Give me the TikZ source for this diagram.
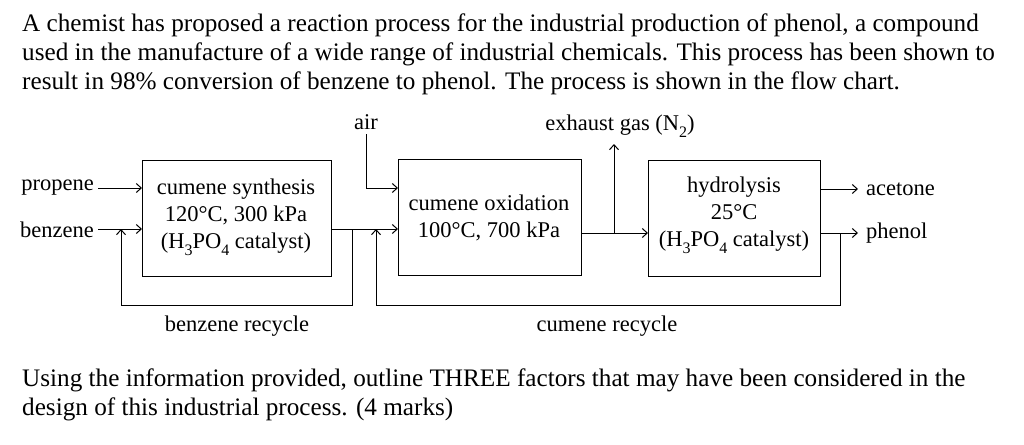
\documentclass[tikz,border=0pt]{standalone}
\usepackage{fontspec}
\setmainfont{Liberation Serif}
\usetikzlibrary{arrows.meta,calc}
\newcommand{\sbs}[1]{\raisebox{-0.3em}{\fontsize{16}{16}\selectfont #1}}
\begin{document}
\begin{tikzpicture}[x=1pt,y=-1pt,
  lab/.style={font=\fontsize{22.5}{27}\selectfont,inner sep=0pt},
  bx/.style={draw,line width=1pt,minimum height=116pt,anchor=north west,inner sep=0pt},
  ln/.style={line width=1pt},
  ar/.style={ln,-{Straight Barb[length=5pt,width=9pt]}},
  par/.style={font=\fontsize{25.2}{29}\selectfont,inner sep=0pt,anchor=north west,align=left}]
\useasboundingbox (0,0) rectangle (1024,444);
\node[par] (p1) at (22,14) {A chemist has proposed a reaction process for the industrial production of phenol, a compound\\used in the manufacture of a wide range of industrial chemicals. This process has been shown to\\result in 98\% conversion of benzene to phenol. The process is shown in the flow chart.};
\node[par] (p2) at (22,369) {Using the information provided, outline THREE factors that may have been considered in the\\design of this industrial process. (4 marks)};
% boxes
\node[bx,minimum width=189pt] (b1) at (142,160) {};
\node[lab,align=center] (t1) at (236,217) {cumene synthesis\\120°C, 300 kPa\\(H\sbs{3}PO\sbs{4} catalyst)};
\node[bx,minimum width=183pt] (b2) at (398,159) {};
\node[lab,align=center] (t2) at (489,218) {cumene oxidation\\100°C, 700 kPa};
\node[bx,minimum width=172pt] (b3) at (648,160) {};
\node[lab,align=center] (t3) at (734,215) {hydrolysis\\25°C\\(H\sbs{3}PO\sbs{4} catalyst)};
% labels
\node[lab,anchor=east] (prop) at (94,188) {propene};
\node[lab,anchor=east] (benz) at (94,230) {benzene};
\node[lab] (air) at (366,122) {air};
\node[lab] (exh) at (620,126) {exhaust gas (N\sbs{2})};
\node[lab,anchor=west] (acet) at (866,189) {acetone};
\node[lab,anchor=west] (phen) at (866,233) {phenol};
\node[lab] (brec) at (237,326) {benzene recycle};
\node[lab] (crec) at (607,326) {cumene recycle};
% coordinates
\coordinate (j1) at (352,229);
\coordinate (j2) at (614,233);
\coordinate (j3) at (840,233);
\coordinate (ab) at (121,229);
\coordinate (ac) at (376,229);
\coordinate (airtop) at (366,134);
\coordinate (ain) at (398,188);
\coordinate (exend) at (614,144);
% connectors
\draw[ar] ($(prop.east)+(4,0)$) -- (b1.west |- prop);
\draw[ar] ($(benz.east)+(4,-1)$) -- (b1.west |- ab);
\draw[ar] (b1.east |- ab) -- (b2.west |- ab);
\draw[ar] (airtop) |- (ain);
\draw[ar] (b2.east |- j2) -- (b3.west |- j2);
\draw[ar] (j2) -- (exend);
\draw[ar] (b3.east |- acet) -- ($(acet.west)+(-8,0)$);
\draw[ar] (b3.east |- phen) -- ($(phen.west)+(-8,0)$);
\draw[ar] (j1) -- (352,305) -| (ab);
\draw[ar] (j3) -- (840,305) -| (ac);
\end{tikzpicture}
\end{document}
